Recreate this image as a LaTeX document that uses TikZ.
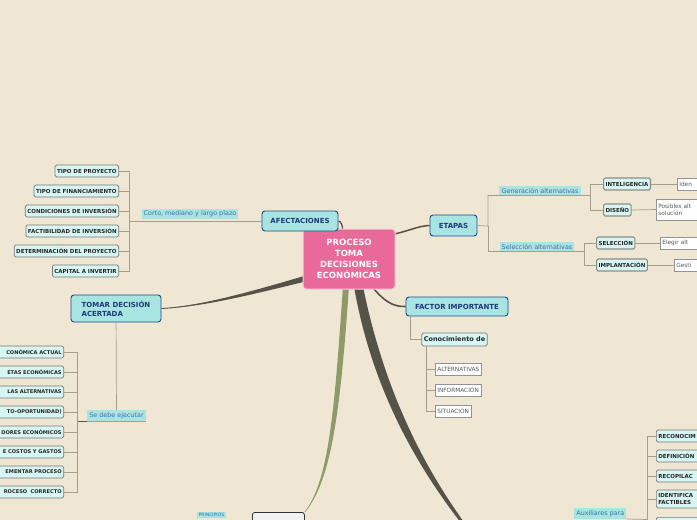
\documentclass[tikz,border=0pt]{standalone}
\usepackage{fontspec}
\setmainfont{DejaVu Sans}
\usetikzlibrary{positioning,calc,backgrounds}
\definecolor{fondo}{RGB}{239,231,211}
\definecolor{rosa}{RGB}{233,106,154}
\definecolor{cian}{RGB}{168,228,226}
\definecolor{cianclaro}{RGB}{214,245,243}
\definecolor{azul}{RGB}{30,74,140}
\definecolor{azultexto}{RGB}{28,58,120}
\definecolor{azuletiq}{RGB}{62,112,168}
\definecolor{gris}{RGB}{120,120,120}
\definecolor{linea}{RGB}{166,158,140}
\definecolor{oscuro}{RGB}{85,82,72}
\definecolor{verde}{RGB}{142,154,106}
\begin{document}
\begin{tikzpicture}[x=1pt, y=-1pt,
    centro/.style={fill=rosa, draw=rosa!35!white, line width=1pt, rounded corners=3pt, text=white, align=center,
        minimum width=92pt, minimum height=60pt, font=\fontsize{8.5}{10.8}\selectfont\bfseries},
    tema/.style={fill=cian, draw=azul, line width=0.9pt, rounded corners=3pt, text=azultexto, font=\fontsize{7}{9}\selectfont\bfseries},
    etiq/.style={fill=cian, text=azuletiq, inner sep=2.2pt, font=\fontsize{6.4}{7.4}\selectfont},
    item/.style={fill=cianclaro, draw=gris, line width=0.7pt, rounded corners=1.5pt, inner sep=2pt, minimum height=12pt,
        text=black!85, font=\fontsize{5.5}{6.5}\selectfont\bfseries},
    paso/.style={item, draw=gris!85, line width=1.1pt},
    hoja/.style={fill=white, draw=gris!80, line width=0.7pt, inner sep=2pt, minimum height=12pt, align=left,
        text=black!65, font=\fontsize{5.8}{6.8}\selectfont},
    rama/.style={draw=linea, line width=0.7pt}]
\useasboundingbox (0,0) rectangle (697,520);
\clip (0,0) rectangle (697,520);
\node[centro] (pt) at (349,259) {PROCESO\\TOMA\\DECISIONES\\ECONÓMICAS};

\node[tema, minimum width=76pt, minimum height=20pt] (afec) at (300,221) {AFECTACIONES};
\node[etiq] (plazo) at (190,214) {Corto, mediano y largo plazo};
\coordinate (bafec) at (129,221);
\draw[rama] (afec.west) -- (bafec);
\foreach \t [count=\i] in {TIPO DE PROYECTO, TIPO DE FINANCIAMIENTO, CONDICIONES DE INVERSIÓN,
    FACTIBILIDAD DE INVERSIÓN, DETERMINACIÓN DEL PROYECTO, CAPITAL A INVERTIR}{
  \node[item, anchor=east] (tipo\i) at (119,151+20*\i) {\t};
  \draw[rama] (tipo\i.east) -| (bafec);
}

\node[tema, minimum width=47pt, minimum height=21pt] (etapas) at (453.5,225.5) {ETAPAS};
\node[etiq] (gen) at (540,190.5) {Generación alternativas};
\node[etiq] (sel) at (537,246.5) {Selección alternativas};
\coordinate (betap) at (488,226);
\coordinate (bgen) at ($(gen.south east)+(10,0)$);
\coordinate (bsel) at ($(sel.south east)+(10,0)$);
\draw[rama] (etapas.east) -- (betap) |- (bgen);
\draw[rama] (betap) |- (bsel);
\node[paso, anchor=west] (intel) at (603,184) {INTELIGENCIA};
\node[paso, anchor=west] (diseno) at (603,210) {DISEÑO};
\node[paso, anchor=west] (selec) at (596,243) {SELECCIÓN};
\node[paso, anchor=west] (implan) at (596,265) {IMPLANTACIÓN};
\draw[rama] (bgen) |- (intel.west);
\draw[rama] (bgen) |- (diseno.west);
\draw[rama] (bsel) |- (selec.west);
\draw[rama] (bsel) |- (implan.west);
\node[hoja, anchor=west, text width=40pt] (iden) at (677,184) {Iden};
\node[hoja, anchor=west, text width=50pt, minimum height=21pt] (posib) at (656,209.5) {Posibles alt\\solución};
\node[hoja, anchor=west, text width=50pt] (elegir) at (660,243) {Elegir alt};
\node[hoja, anchor=west, text width=40pt] (gesti) at (674,265) {Gesti};
\draw[rama] (intel.east) -- (iden.west);
\draw[rama] (diseno.east) -- (posib.west);
\draw[rama] (selec.east) -- (elegir.west);
\draw[rama] (implan.east) -- (gesti.west);

\node[tema, minimum width=102pt, minimum height=19pt] (factor) at (457,306.5) {FACTOR IMPORTANTE};
\node[item, font=\fontsize{6.5}{7.5}\selectfont\bfseries, minimum height=13pt] (conoc) at (454.5,339.5) {Conocimiento de};
\draw[rama] ($(factor.south west)+(5,0)$) |- (conoc.west);
\foreach \t/\y [count=\i] in {ALTERNATIVAS/369, INFORMACIÓN/390, SITUACIÓN/411}{
  \node[hoja, anchor=west] (dato\i) at (435,\y) {\t};
  \draw[rama] ($(conoc.south west)+(5,0)$) |- (dato\i.west);
}

\node[tema, align=left, minimum width=90pt, minimum height=27pt] (tomar) at (116,308.5) {TOMAR DECISIÓN\\ACERTADA};
\node[etiq] (ejec) at (116.5,415.5) {Se debe ejecutar};
\draw[rama] (tomar) -- (ejec);
\coordinate (bejec) at ($(ejec.south west)+(-10,0)$);
\draw[rama] (ejec.south east) -- (ejec.south west);
\draw[oscuro, line width=1pt] (ejec.south west) -- (bejec);
\foreach \t [count=\i] in {CONÓMICA ACTUAL, ETAS ECONÓMICAS, LAS ALTERNATIVAS, TO-OPORTUNIDAD),
    DORES ECONÓMICOS, E COSTOS Y GASTOS, EMENTAR PROCESO, ROCESO\ \ CORRECTO}{
  \node[item, anchor=east, text width=80pt, align=right, font=\fontsize{5.1}{6}\selectfont\bfseries] (ej\i) at (64,332+20*\i) {\t};
  \draw[rama] (ej\i.east) -| (bejec);
}

\node[etiq, font=\fontsize{4.5}{5}\selectfont, inner sep=1.5pt] (princ) at (211.5,515) {PRINCIPIOS};
\node[draw=black!80, fill=white!95!black, line width=0.8pt, rounded corners=2.5pt, minimum width=52pt,
    minimum height=28pt, anchor=north west] (cajap) at (252,512) {};

\node[etiq, anchor=north west] (auxi) at (574,508) {Auxiliares para};
\coordinate (bauxi) at (647,519.5);
\foreach \t/\y [count=\i] in {RECONOCIM/436, DEFINICIÓN/456, RECOPILAC/476}{
  \node[item, anchor=west, text width=44pt, align=left] (aux\i) at (656,\y) {\t};
  \draw[rama] (aux\i.west) -| (bauxi);
}
\node[item, anchor=west, text width=44pt, align=left, minimum height=18pt] (aux4) at (656,499) {IDENTIFICA\\FACTIBLES};
\node[item, anchor=north west, text width=44pt, minimum height=18pt] (aux5) at (656,517) {};
\draw[rama] (aux4.west) -| (bauxi);
\draw[rama] (aux5.west) -| (bauxi);
\draw[rama] (auxi.south east) -- (bauxi);

\coordinate (sur) at (472,535);
\begin{scope}[on background layer]
\fill[fondo] (0,0) rectangle (697,520);
\fill[oscuro] ($(pt.west)+(5,16)$) .. controls (250,292) and (200,306) .. (tomar.east)
    .. controls (200,307.5) and (250,295) .. ($(pt.west)+(5,22)$) -- cycle;
\draw[oscuro, line width=0.8pt] ($(pt.west)+(5,19)$) .. controls (250,293.5) and (200,306.5) .. (tomar.east);
\fill[oscuro] ($(pt.south)+(5,-3)$) .. controls (372,390) and (418,470) .. ($(sur)+(-1.5,0)$)
    -- ($(sur)+(1.5,0)$) .. controls (424,470) and (384,390) .. ($(pt.south)+(14,-3)$) -- cycle;
\fill[verde] ($(pt.south)+(-6,-3)$) .. controls (335,400) and (330,480) .. (cajap.north east)
    .. controls (333,480) and (341,400) .. ($(pt.south)+(0,-3)$) -- cycle;
\draw[verde, line width=0.6pt] ($(pt.south)+(-3,-3)$) .. controls (338,400) and (331,480) .. (cajap.north east);
\draw[oscuro, line width=1.3pt] (afec.east) .. controls (341,221) and (343,226) .. ($(pt.north west)+(40,2)$);
\draw[oscuro, line width=1.5pt] ($(pt.north east)+(-3,6)$) .. controls (412,230) and (418,226) .. (etapas.west);
\draw[oscuro, line width=1.6pt] ($(pt.south)+(23,-3)$) .. controls (383,300) and (392,307) .. (factor.west);
\end{scope}
\end{tikzpicture}
\end{document}
